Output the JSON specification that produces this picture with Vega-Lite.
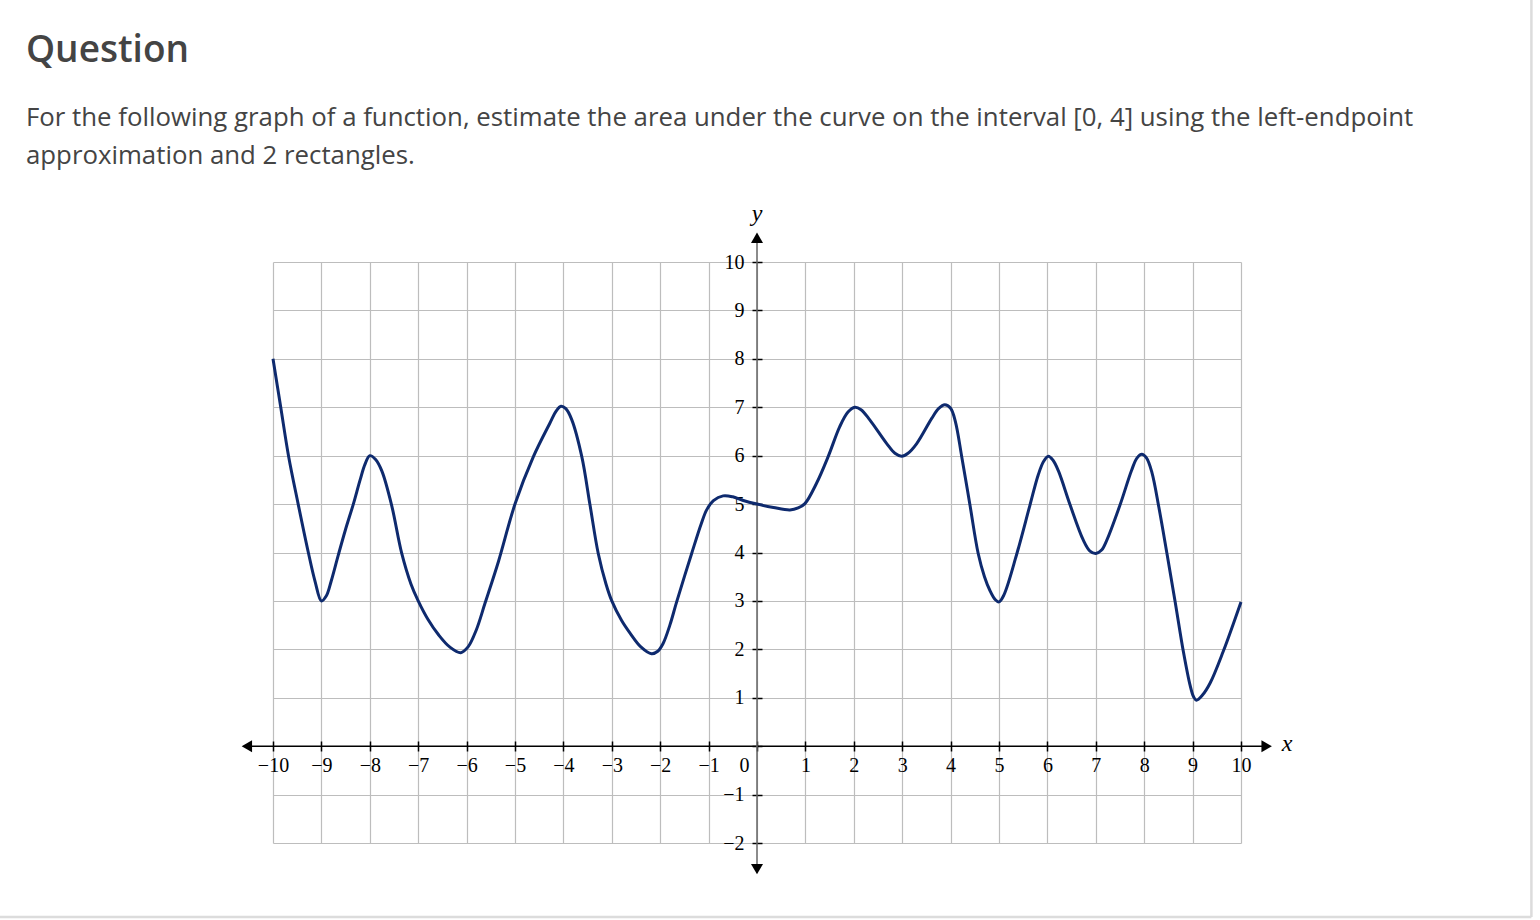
{
  "$schema": "https://vega.github.io/schema/vega-lite/v6.json",
  "width": 968,
  "height": 581,
  "autosize": {"type": "none"},
  "padding": {"left": 273, "top": 262, "right": 299, "bottom": 77},
  "background": "white",
  "config": {"view": {"stroke": null}},
  "title": {
    "text": "Question",
    "subtitle": ["For the following graph of a function, estimate the area under the curve on the interval [0, 4] using the left-endpoint", "approximation and 2 rectangles."],
    "anchor": "start",
    "frame": "group",
    "dx": -247,
    "offset": -171,
    "font": "Open Sans",
    "fontSize": 37,
    "fontWeight": 600,
    "color": "#444444",
    "subtitleFont": "Open Sans",
    "subtitleFontSize": 25.8,
    "subtitleFontWeight": 400,
    "subtitleColor": "#444444",
    "subtitleLineHeight": 38,
    "subtitlePadding": 36
  },
  "datasets": {
    "curve": [
      {"x": -10, "y": 8},
      {"x": -9.84, "y": 7},
      {"x": -9.68, "y": 6},
      {"x": -9.48, "y": 5},
      {"x": -9.27, "y": 4},
      {"x": -9.13, "y": 3.4},
      {"x": -9.0, "y": 3.0},
      {"x": -8.9, "y": 3.1},
      {"x": -8.8, "y": 3.4},
      {"x": -8.65, "y": 3.95},
      {"x": -8.5, "y": 4.48},
      {"x": -8.34, "y": 5.0},
      {"x": -8.2, "y": 5.5},
      {"x": -8.1, "y": 5.82},
      {"x": -8.0, "y": 6.0},
      {"x": -7.88, "y": 5.92},
      {"x": -7.75, "y": 5.68},
      {"x": -7.55, "y": 4.98},
      {"x": -7.34, "y": 3.98},
      {"x": -7.15, "y": 3.35},
      {"x": -7.0, "y": 3.0},
      {"x": -6.8, "y": 2.62},
      {"x": -6.58, "y": 2.3},
      {"x": -6.35, "y": 2.05},
      {"x": -6.12, "y": 1.93},
      {"x": -5.97, "y": 2.05},
      {"x": -5.8, "y": 2.4},
      {"x": -5.62, "y": 2.95},
      {"x": -5.34, "y": 3.82},
      {"x": -5.0, "y": 5.0},
      {"x": -4.62, "y": 5.98},
      {"x": -4.28, "y": 6.67},
      {"x": -4.15, "y": 6.92},
      {"x": -4.05, "y": 7.02},
      {"x": -3.95, "y": 6.97},
      {"x": -3.83, "y": 6.75},
      {"x": -3.62, "y": 5.98},
      {"x": -3.45, "y": 4.98},
      {"x": -3.28, "y": 3.98},
      {"x": -3.12, "y": 3.35},
      {"x": -3.0, "y": 3.0},
      {"x": -2.8, "y": 2.6},
      {"x": -2.62, "y": 2.33},
      {"x": -2.4, "y": 2.05},
      {"x": -2.18, "y": 1.91},
      {"x": -2.05, "y": 1.96},
      {"x": -1.94, "y": 2.12},
      {"x": -1.8, "y": 2.5},
      {"x": -1.66, "y": 2.98},
      {"x": -1.35, "y": 3.98},
      {"x": -1.15, "y": 4.6},
      {"x": -1.04, "y": 4.88},
      {"x": -0.9, "y": 5.07},
      {"x": -0.7, "y": 5.17},
      {"x": -0.5, "y": 5.15},
      {"x": -0.3, "y": 5.08},
      {"x": 0.0, "y": 5.0},
      {"x": 0.34, "y": 4.93},
      {"x": 0.68, "y": 4.88},
      {"x": 0.85, "y": 4.92},
      {"x": 0.99, "y": 5.01},
      {"x": 1.23, "y": 5.43},
      {"x": 1.47, "y": 5.98},
      {"x": 1.71, "y": 6.6},
      {"x": 1.88, "y": 6.9},
      {"x": 2.02, "y": 7.0},
      {"x": 2.15, "y": 6.95},
      {"x": 2.33, "y": 6.74},
      {"x": 2.68, "y": 6.25},
      {"x": 2.85, "y": 6.05},
      {"x": 2.99, "y": 5.99},
      {"x": 3.12, "y": 6.05},
      {"x": 3.3, "y": 6.25},
      {"x": 3.61, "y": 6.77},
      {"x": 3.75, "y": 6.97},
      {"x": 3.88, "y": 7.05},
      {"x": 4.0, "y": 6.98},
      {"x": 4.1, "y": 6.7},
      {"x": 4.23, "y": 5.98},
      {"x": 4.4, "y": 4.98},
      {"x": 4.57, "y": 3.98},
      {"x": 4.7, "y": 3.5},
      {"x": 4.81, "y": 3.22},
      {"x": 4.92, "y": 3.03},
      {"x": 5.0, "y": 2.98},
      {"x": 5.1, "y": 3.12},
      {"x": 5.37, "y": 3.98},
      {"x": 5.64, "y": 4.98},
      {"x": 5.81, "y": 5.6},
      {"x": 5.92, "y": 5.88},
      {"x": 6.02, "y": 5.99},
      {"x": 6.12, "y": 5.9},
      {"x": 6.23, "y": 5.68},
      {"x": 6.47, "y": 4.98},
      {"x": 6.74, "y": 4.26},
      {"x": 6.88, "y": 4.03},
      {"x": 7.0, "y": 3.98},
      {"x": 7.12, "y": 4.05},
      {"x": 7.23, "y": 4.26},
      {"x": 7.5, "y": 4.98},
      {"x": 7.74, "y": 5.7},
      {"x": 7.85, "y": 5.95},
      {"x": 7.95, "y": 6.03},
      {"x": 8.05, "y": 5.95},
      {"x": 8.16, "y": 5.65},
      {"x": 8.3, "y": 4.95},
      {"x": 8.47, "y": 3.98},
      {"x": 8.64, "y": 2.98},
      {"x": 8.81, "y": 1.95},
      {"x": 8.95, "y": 1.25},
      {"x": 9.02, "y": 1.02},
      {"x": 9.08, "y": 0.95},
      {"x": 9.2, "y": 1.05},
      {"x": 9.36, "y": 1.3},
      {"x": 9.63, "y": 1.95},
      {"x": 10.0, "y": 2.98}
    ]
  },
  "layer": [
    {
      "data": {"values": [{}]},
      "mark": {"type": "rule", "stroke": "#dcdcdc", "strokeWidth": 2.5},
      "encoding": {
        "x": {"datum": 16.0, "type": "quantitative", "scale": {"domain": [-10, 10], "nice": false, "zero": false}},
        "y": {"datum": -3.53, "type": "quantitative", "scale": {"domain": [-2, 10], "nice": false, "zero": false}},
        "y2": {"datum": 15.41}
      }
    },
    {
      "data": {"values": [{}]},
      "mark": {"type": "rule", "stroke": "#dcdcdc", "strokeWidth": 2.5},
      "encoding": {
        "x": {"datum": -15.7, "type": "quantitative", "scale": {"domain": [-10, 10], "nice": false, "zero": false}},
        "x2": {"datum": 16.0},
        "y": {"datum": -3.53, "type": "quantitative", "scale": {"domain": [-2, 10], "nice": false, "zero": false}}
      }
    },
    {
      "data": {"name": "curve"},
      "mark": {"type": "line", "interpolate": "monotone", "stroke": "#0e2a6e", "strokeWidth": 3, "opacity": 0},
      "encoding": {
        "x": {
          "field": "x", "type": "quantitative",
          "scale": {"domain": [-10, 10], "nice": false, "zero": false},
          "axis": {
            "values": [-10, -9, -8, -7, -6, -5, -4, -3, -2, -1, 0, 1, 2, 3, 4, 5, 6, 7, 8, 9, 10],
            "offset": -102,
            "domain": false,
            "ticks": true,
            "tickSize": 10,
            "tickColor": "black",
            "tickWidth": 1.5,
            "grid": true,
            "gridColor": "#bdbdbd",
            "gridWidth": 1.2,
            "labelFont": "Liberation Serif",
            "labelFontSize": 20,
            "labelColor": "black",
            "labelPadding": 4,
            "labelFlush": false,
            "labelOverlap": false,
            "labelBound": false,
            "labelAlign": {"condition": {"test": "datum.value === 0", "value": "right"}, "value": "center"},
            "labelOffset": {"condition": {"test": "datum.value === 0", "value": -8}, "value": 0},
            "title": null
          }
        },
        "y": {
          "field": "y", "type": "quantitative",
          "scale": {"domain": [-2, 10], "nice": false, "zero": false},
          "axis": {
            "values": [-2, -1, 0, 1, 2, 3, 4, 5, 6, 7, 8, 9, 10],
            "offset": -489,
            "domain": false,
            "ticks": true,
            "tickSize": 10,
            "tickColor": "black",
            "tickWidth": 1.5,
            "grid": true,
            "gridColor": "#bdbdbd",
            "gridWidth": 1.2,
            "labelFont": "Liberation Serif",
            "labelFontSize": 20,
            "labelColor": "black",
            "labelPadding": 8,
            "labelFlush": false,
            "labelOverlap": false,
            "labelBound": false,
            "labelExpr": "datum.value === 0 ? '' : datum.label",
            "title": null
          }
        }
      }
    },
    {
      "data": {"values": [{}]},
      "mark": {"type": "rule", "stroke": "black", "strokeWidth": 1.5},
      "encoding": {
        "x": {"datum": -10.5, "type": "quantitative"},
        "x2": {"datum": 10.5},
        "y": {"datum": 0, "type": "quantitative"}
      }
    },
    {
      "data": {"values": [{}]},
      "mark": {"type": "rule", "stroke": "#666666", "strokeWidth": 1.5},
      "encoding": {
        "x": {"datum": 0, "type": "quantitative"},
        "y": {"datum": -2.5, "type": "quantitative"},
        "y2": {"datum": 10.5}
      }
    },
    {
      "data": {"values": [{}]},
      "mark": {"type": "point", "shape": "triangle-right", "filled": true, "size": 144, "color": "black", "opacity": 1},
      "encoding": {"x": {"datum": 10.53, "type": "quantitative"}, "y": {"datum": 0, "type": "quantitative"}}
    },
    {
      "data": {"values": [{}]},
      "mark": {"type": "point", "shape": "triangle-left", "filled": true, "size": 144, "color": "black", "opacity": 1},
      "encoding": {"x": {"datum": -10.54, "type": "quantitative"}, "y": {"datum": 0, "type": "quantitative"}}
    },
    {
      "data": {"values": [{}]},
      "mark": {"type": "point", "shape": "triangle-up", "filled": true, "size": 144, "color": "black", "opacity": 1},
      "encoding": {"x": {"datum": 0, "type": "quantitative"}, "y": {"datum": 10.5, "type": "quantitative"}}
    },
    {
      "data": {"values": [{}]},
      "mark": {"type": "point", "shape": "triangle-down", "filled": true, "size": 144, "color": "black", "opacity": 1},
      "encoding": {"x": {"datum": 0, "type": "quantitative"}, "y": {"datum": -2.54, "type": "quantitative"}}
    },
    {
      "data": {"values": [{}]},
      "mark": {"type": "text", "text": "x", "font": "Liberation Serif", "fontStyle": "italic", "fontSize": 24, "color": "black", "align": "center", "baseline": "middle"},
      "encoding": {"x": {"datum": 10.95, "type": "quantitative"}, "y": {"datum": 0.05, "type": "quantitative"}}
    },
    {
      "data": {"values": [{}]},
      "mark": {"type": "text", "text": "y", "font": "Liberation Serif", "fontStyle": "italic", "fontSize": 24, "color": "black", "align": "center", "baseline": "middle"},
      "encoding": {"x": {"datum": 0, "type": "quantitative"}, "y": {"datum": 11.0, "type": "quantitative"}}
    },
    {
      "data": {"name": "curve"},
      "mark": {"type": "line", "interpolate": "catmull-rom", "stroke": "#0e2a6e", "strokeWidth": 3},
      "encoding": {
        "x": {"field": "x", "type": "quantitative"},
        "y": {"field": "y", "type": "quantitative"}
      }
    }
  ]
}
